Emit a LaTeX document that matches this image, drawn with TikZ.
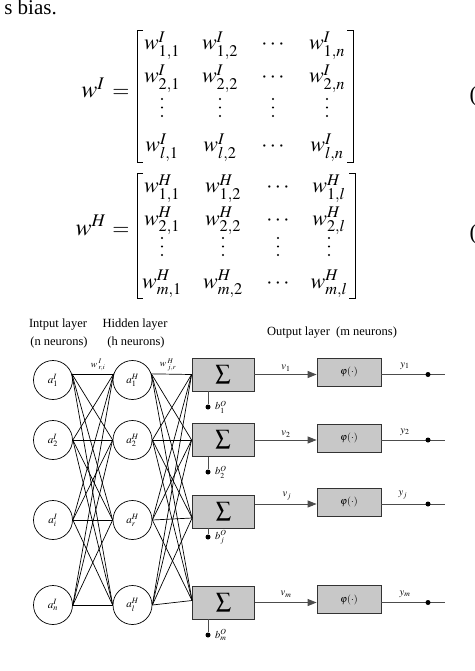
\documentclass[tikz,border=0pt]{standalone}
\usepackage{mathptmx}
\usepackage{fontspec}
\setmainfont{Liberation Serif}
\usetikzlibrary{arrows.meta,calc}
\definecolor{boxgray}{RGB}{200,200,200}
\begin{document}
\begin{tikzpicture}[x=1pt,y=-1pt,
  neuron/.style={circle,draw,line width=0.7pt,minimum size=39pt,inner sep=0pt,font=\fontsize{11}{13}\selectfont},
  sumbox/.style={rectangle,draw=black!80,fill=boxgray,line width=0.8pt,minimum width=62pt,minimum height=33pt,inner sep=0pt},
  phibox/.style={rectangle,draw=black!80,fill=boxgray,line width=0.8pt,minimum width=64pt,minimum height=28pt,inner sep=0pt,font=\fontsize{10}{12}\selectfont},
  conn/.style={line width=0.7pt,black},
  sig/.style={line width=0.9pt,black!70},
  arr/.style={sig,-{Triangle[length=9pt,width=7pt]}},
  dotn/.style={circle,fill=black,minimum size=5pt,inner sep=0pt},
  vd/.style={circle,fill=black,minimum size=2.2pt,inner sep=0pt},
  lbl/.style={font=\fontsize{12.5}{14}\selectfont,inner sep=0pt},
  mat/.style={font=\fontsize{22}{26}\selectfont,inner sep=0pt,anchor=base},
  big/.style={font=\fontsize{24}{28}\selectfont,inner sep=0pt,anchor=base},
  small/.style={font=\fontsize{10.5}{12}\selectfont,inner sep=0pt},
  bracket/.style={line width=0.9pt,black}
]
\useasboundingbox (0,0) rectangle (474,671);

% cut-off text of the page
\node[anchor=base east,font=\fontsize{21}{25}\selectfont,inner sep=0pt] (sb) at (57,15) {s bias.};
\node[anchor=west,font=\fontsize{22}{26}\selectfont,inner sep=0pt] (eqa) at (469.5,96) {(};
\node[anchor=west,font=\fontsize{22}{26}\selectfont,inner sep=0pt] (eqb) at (469.5,234) {(};

% ---------- matrix w^I ----------
\node[big] (wIl) at (93,98) {$w^{I}$};
\node[mat] (eqI) at (121,98) {$=$};
\draw[bracket] (143,30) -- (137,30) -- (137,162) -- (143,162);
\draw[bracket] (347,30) -- (353,30) -- (353,162) -- (347,162);
\node[mat] (a11) at (162,50) {$w^{I}_{1,1}$};
\node[mat] (a12) at (220,50) {$w^{I}_{1,2}$};
\node[mat] (a13) at (273,50) {$\cdots$};
\node[mat] (a14) at (327,50) {$w^{I}_{1,n}$};
\node[mat] (a21) at (162,83) {$w^{I}_{2,1}$};
\node[mat] (a22) at (220,83) {$w^{I}_{2,2}$};
\node[mat] (a23) at (273,83) {$\cdots$};
\node[mat] (a24) at (327,83) {$w^{I}_{2,n}$};
\foreach \x/\n in {162/1,220/2,273/3,327/4}{
  \node[vd] (av\n a) at (\x,99) {};
  \node[vd] (av\n b) at (\x,107.5) {};
  \node[vd] (av\n c) at (\x,116) {};
}
\node[mat] (a41) at (162,152) {$w^{I}_{l,1}$};
\node[mat] (a42) at (220,152) {$w^{I}_{l,2}$};
\node[mat] (a43) at (273,152) {$\cdots$};
\node[mat] (a44) at (327,152) {$w^{I}_{l,n}$};

% ---------- matrix w^H ----------
\node[big] (wHl) at (91,235) {$w^{H}$};
\node[mat] (eqH) at (121,235) {$=$};
\draw[bracket] (143,173) -- (137,173) -- (137,298) -- (143,298);
\draw[bracket] (349,173) -- (355,173) -- (355,298) -- (349,298);
\node[mat] (b11) at (162,193) {$w^{H}_{1,1}$};
\node[mat] (b12) at (223,193) {$w^{H}_{1,2}$};
\node[mat] (b13) at (278,193) {$\cdots$};
\node[mat] (b14) at (329,193) {$w^{H}_{1,l}$};
\node[mat] (b21) at (162,225) {$w^{H}_{2,1}$};
\node[mat] (b22) at (223,225) {$w^{H}_{2,2}$};
\node[mat] (b23) at (278,225) {$\cdots$};
\node[mat] (b24) at (329,225) {$w^{H}_{2,l}$};
\foreach \x/\n in {162/1,223/2,278/3,329/4}{
  \node[vd] (bv\n a) at (\x,238) {};
  \node[vd] (bv\n b) at (\x,246.5) {};
  \node[vd] (bv\n c) at (\x,255) {};
}
\node[mat] (b41) at (162,288) {$w^{H}_{m,1}$};
\node[mat] (b42) at (223,288) {$w^{H}_{m,2}$};
\node[mat] (b43) at (278,288) {$\cdots$};
\node[mat] (b44) at (329,288) {$w^{H}_{m,l}$};

% ---------- headings ----------
\node[lbl] (il1) at (58,325) {Intput layer};
\node[lbl] (il2) at (59,342) {(n neurons)};
\node[lbl] (hl1) at (135,325) {Hidden layer};
\node[lbl] (hl2) at (136,342) {(h neurons)};
\node[lbl] (ol)  at (332,333) {Output layer\enspace(m neurons)};
\node[small,font=\fontsize{9.5}{11}\selectfont] (wlI) at (98,365) {$w^{\;I}_{\;r,i}$};
\node[small,font=\fontsize{9.5}{11}\selectfont] (wlH) at (168,365) {$w^{\;H}_{\;j,r}$};

% ---------- neurons ----------
\node[neuron] (in1) at (53,380) {$a^{I}_{1}$};
\node[neuron] (in2) at (53,440) {$a^{I}_{2}$};
\node[neuron] (in3) at (53,520) {$a^{I}_{i}$};
\node[neuron] (in4) at (53,605) {$a^{I}_{n}$};
\node[neuron] (hd1) at (132.5,380) {$a^{H}_{1}$};
\node[neuron] (hd2) at (132.5,440) {$a^{H}_{2}$};
\node[neuron] (hd3) at (132.5,520) {$a^{H}_{r}$};
\node[neuron] (hd4) at (132.5,605) {$a^{H}_{l}$};

% ---------- output blocks ----------
\node[sumbox] (s1) at (223,374.5) {\fontsize{15}{17}\selectfont$\displaystyle\sum$};
\node[sumbox] (s2) at (223,440) {\fontsize{15}{17}\selectfont$\displaystyle\sum$};
\node[sumbox] (s3) at (223.5,511.5) {\fontsize{15}{17}\selectfont$\displaystyle\sum$};
\node[sumbox] (s4) at (223.5,602.5) {\fontsize{15}{17}\selectfont$\displaystyle\sum$};
\node[phibox] (p1) at (349,372) {$\varphi(\cdot)$};
\node[phibox] (p2) at (349,438) {$\varphi(\cdot)$};
\node[phibox] (p3) at (349,502) {$\varphi(\cdot)$};
\node[phibox] (p4) at (349,599.5) {$\varphi(\cdot)$};

% connection points
\coordinate (ie1) at (in1.18);  \coordinate (ie2) at (in2.east);
\coordinate (ie3) at (in3.east); \coordinate (ie4) at (in4.east);
\coordinate (hw1) at (hd1.162); \coordinate (hw2) at (hd2.west);
\coordinate (hw3) at (hd3.west); \coordinate (hw4) at (hd4.west);
\coordinate (he1) at (hd1.18);  \coordinate (he2) at (hd2.east);
\coordinate (he3) at (hd3.east); \coordinate (he4) at (hd4.east);
\coordinate (sw1) at (s1.west); \coordinate (sw2) at (s2.west);
\coordinate (sw3) at ($(s3.west)+(0,6.5)$); \coordinate (sw4) at ($(s4.west)+(0,-2)$);

\foreach \i in {1,2,3,4}{
  \foreach \j in {1,2,3,4}{
    \draw[conn] (ie\i) -- (hw\j);
    \draw[conn] (he\i) -- (sw\j);
  }
}

% signals
\coordinate (o1) at (s1.east);
\coordinate (o2) at (s2.east);
\coordinate (o3) at ($(s3.east)+(0,-7.5)$);
\coordinate (o4) at (s4.east);
\foreach \k in {1,2,3,4}{
  \draw[arr] (o\k) -- (o\k -| p\k.west);
  \coordinate (e\k) at (445,0 |- o\k);
  \draw[sig] (o\k -| p\k.east) -- (e\k);
  \node[dotn] (d\k) at (428,0 |- o\k) {};
}

\node[small] (v1) at (286,368) {$v_{1}$};
\node[small] (v2) at (286,434) {$v_{2}$};
\node[small] (v3) at (287,496) {$v_{j}$};
\node[small] (v4) at (286,594) {$v_{m}$};
\node[small] (y1) at (405,366) {$y_{1}$};
\node[small] (y2) at (405,432) {$y_{2}$};
\node[small] (y3) at (403,495) {$y_{j}$};
\node[small] (y4) at (405,594) {$y_{m}$};

% biases
\node[dotn] (bd1) at (208,407) {};
\node[dotn] (bd2) at (208,472) {};
\node[dotn] (bd3) at (208,537) {};
\node[dotn] (bd4) at (208,635) {};
\draw[sig] (bd1) -- (bd1 |- s1.south);
\draw[sig] (bd2) -- (bd2 |- s2.south);
\draw[sig] (bd3) -- (bd3 |- s3.south);
\draw[sig] (bd4) -- (bd4 |- s4.south);
\node[small,anchor=west] (bl1) at (215,407) {$b^{O}_{1}$};
\node[small,anchor=west] (bl2) at (215,472) {$b^{O}_{2}$};
\node[small,anchor=west] (bl3) at (215,537) {$b^{O}_{j}$};
\node[small,anchor=west] (bl4) at (215,635) {$b^{O}_{m}$};
\end{tikzpicture}
\end{document}
